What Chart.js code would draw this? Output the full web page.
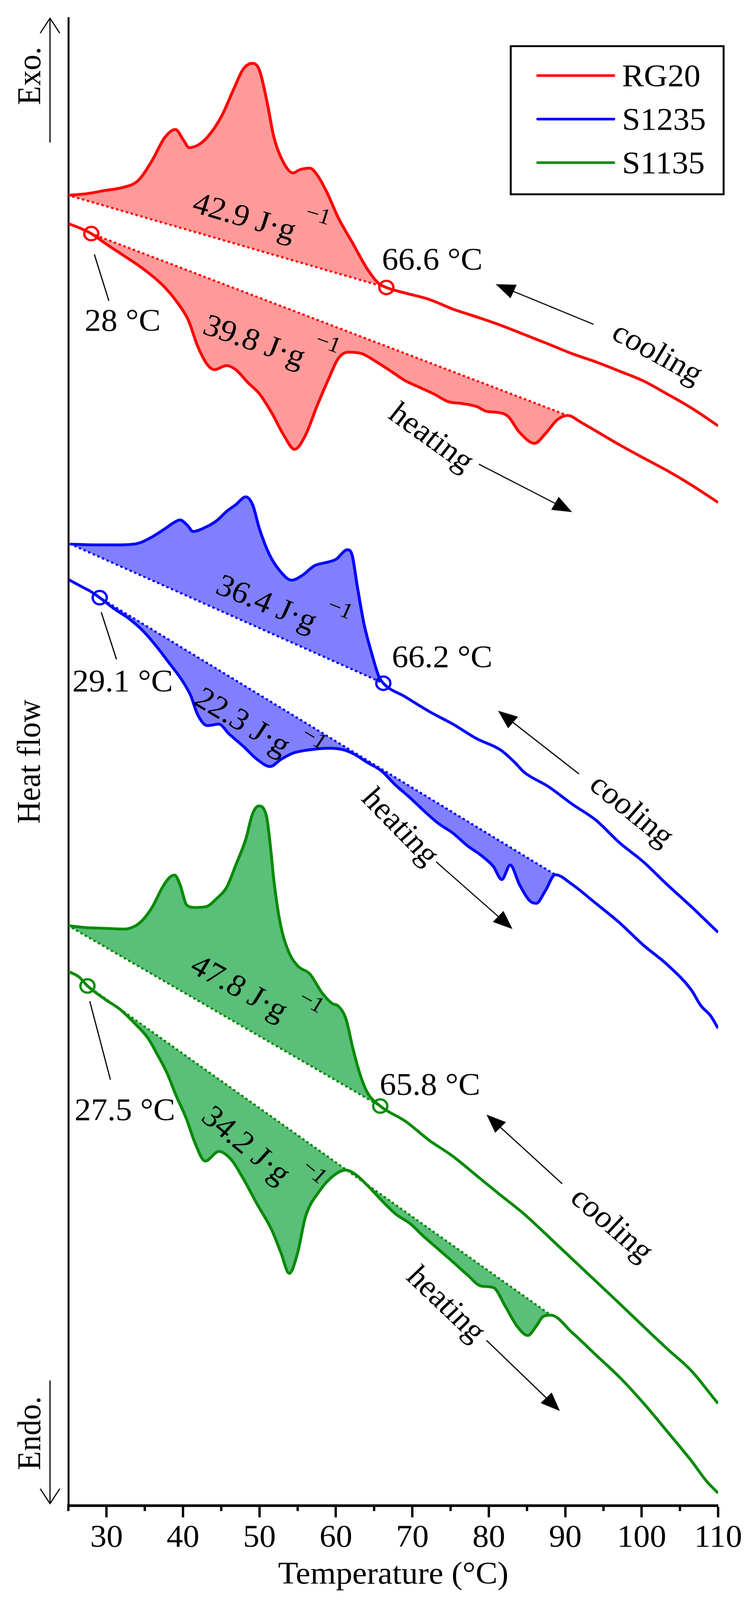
<!DOCTYPE html>
<html>
<head>
<meta charset="utf-8">
<script src="https://cdn.jsdelivr.net/npm/chart.js@4.4.1/dist/chart.umd.min.js"></script>
<style>
html,body{margin:0;padding:0;background:#fff;overflow:hidden;}
#wrap{width:1915px;position:relative;}
canvas{display:block;}
</style>
</head>
<body>
<div id="wrap"><canvas id="c" width="1915" height="4299"></canvas></div>
<script>
// ---------- DATA (temperature in °C, heat flow in arbitrary units) ----------
const seriesNames = ['RG20', 'S1235', 'S1135'];
const seriesColors = ['#ff0000', '#0000ff', '#078a07'];
const fillColors = ['#ff9a9a', '#8080ff', '#5abf78'];

const rg20CoolT = [25.0, 27.3, 29.8, 32.3, 34.1, 36.0, 37.6, 39.0, 40.1, 40.8, 42.2, 43.5, 45.1, 46.6, 47.9, 49.1, 50.0, 51.0, 51.9, 53.2, 54.4, 55.3, 56.6, 57.5, 58.8, 60.3, 62.2, 64.1, 65.6, 66.6, 69.1, 72.2, 75.3, 78.4, 81.5, 84.6, 87.8, 90.9, 94.0, 97.1, 100.2, 103.3, 106.5, 110.0];
const rg20CoolHF = [352.3, 352.7, 353.6, 354.5, 356.2, 361.8, 367.8, 370.0, 367.0, 365.1, 366.1, 368.7, 373.8, 380.7, 386.3, 387.8, 385.9, 377.3, 367.8, 360.9, 358.3, 359.2, 359.6, 357.9, 353.2, 346.3, 339.4, 332.5, 328.6, 327.5, 326.0, 324.3, 321.7, 319.6, 317.4, 314.9, 312.3, 309.7, 307.5, 305.0, 302.4, 298.9, 295.1, 290.3];

const rg20HeatT = [25.0, 26.7, 28.0, 29.8, 32.3, 34.8, 37.3, 39.1, 40.7, 41.9, 43.2, 44.1, 45.7, 46.9, 48.5, 50.0, 51.6, 53.2, 54.6, 56.0, 57.5, 59.1, 60.3, 61.6, 63.4, 65.3, 67.2, 69.1, 70.9, 72.8, 74.7, 76.5, 78.4, 79.7, 81.2, 82.5, 84.0, 86.0, 87.4, 89.0, 90.3, 92.1, 94.6, 97.1, 100.2, 103.3, 106.5, 110.0];
const rg20HeatHF = [344.7, 343.3, 342.0, 339.4, 336.0, 332.5, 328.2, 323.9, 318.7, 311.8, 306.7, 305.4, 306.5, 305.4, 301.9, 298.9, 293.8, 287.7, 284.0, 287.7, 295.5, 303.2, 308.4, 310.1, 309.7, 307.5, 305.0, 302.4, 300.7, 298.9, 296.8, 296.3, 295.5, 294.2, 293.9, 292.9, 288.6, 285.6, 288.2, 292.0, 293.1, 291.2, 288.2, 285.2, 281.7, 278.3, 274.4, 269.7];

const s1235CoolT = [25.3, 28.5, 31.7, 34.1, 36.0, 37.6, 38.8, 39.6, 40.6, 41.3, 42.9, 44.4, 45.7, 46.9, 48.2, 49.1, 50.0, 51.3, 52.8, 54.2, 55.6, 57.2, 58.8, 60.0, 61.5, 62.1, 62.8, 63.7, 64.7, 65.6, 66.2, 69.1, 72.2, 75.3, 78.4, 81.5, 83.4, 84.6, 87.8, 90.9, 94.0, 97.1, 100.2, 103.3, 106.5, 110.0];
const s1235CoolHF = [258.5, 258.3, 258.3, 258.7, 260.5, 262.6, 264.3, 265.0, 263.5, 261.9, 263.0, 264.8, 267.3, 269.1, 271.2, 269.1, 262.6, 255.7, 251.0, 248.8, 250.1, 252.7, 253.6, 254.4, 257.0, 255.7, 247.1, 236.8, 229.0, 223.0, 221.1, 217.4, 213.5, 210.1, 206.2, 203.2, 199.8, 197.2, 193.3, 188.6, 184.3, 178.2, 173.1, 167.0, 161.0, 154.1];

const s1235HeatT = [25.0, 26.7, 27.9, 29.1, 31.0, 32.9, 34.8, 36.6, 38.2, 39.8, 41.0, 41.9, 43.2, 44.7, 46.0, 47.9, 49.7, 51.4, 52.8, 54.4, 56.6, 59.1, 61.0, 62.5, 64.1, 65.9, 67.8, 69.7, 71.5, 73.4, 75.3, 77.2, 79.0, 80.6, 81.7, 82.8, 84.0, 85.3, 86.2, 87.4, 88.7, 90.9, 94.0, 97.1, 100.2, 103.3, 106.5, 107.7, 109.0, 110.0];
const s1235HeatHF = [249.0, 247.1, 245.8, 244.1, 241.1, 238.5, 235.1, 230.8, 226.5, 222.1, 217.8, 212.7, 209.7, 210.1, 207.5, 204.1, 200.6, 198.7, 200.6, 202.3, 203.2, 203.6, 203.2, 201.9, 199.8, 197.6, 193.7, 190.3, 186.8, 183.4, 180.8, 177.4, 174.8, 171.8, 168.3, 172.2, 167.0, 162.7, 161.9, 165.3, 169.6, 167.0, 161.9, 156.7, 150.7, 145.5, 138.6, 134.5, 131.7, 128.3];

const s1135CoolT = [25.0, 27.3, 29.8, 32.3, 33.8, 34.8, 36.0, 37.3, 38.2, 38.9, 39.6, 40.5, 41.6, 43.0, 44.4, 45.7, 46.9, 48.2, 49.1, 49.9, 50.9, 51.4, 51.9, 52.7, 53.8, 55.0, 56.6, 58.2, 59.5, 60.3, 61.3, 62.2, 63.1, 64.1, 65.8, 69.1, 72.2, 75.3, 78.4, 81.5, 84.6, 87.8, 90.9, 94.0, 97.1, 100.2, 103.3, 106.5, 109.6, 110.0];
const s1135CoolHF = [155.9, 155.4, 155.2, 155.0, 155.9, 157.6, 161.0, 166.2, 168.8, 169.5, 167.0, 161.4, 160.8, 161.0, 163.2, 166.2, 172.2, 179.1, 186.0, 188.1, 185.5, 177.8, 167.8, 156.7, 149.0, 145.1, 142.9, 137.8, 135.0, 134.3, 130.9, 123.1, 116.3, 111.1, 107.4, 103.3, 98.2, 93.9, 88.7, 83.5, 78.4, 72.3, 66.3, 60.3, 54.3, 48.2, 42.2, 36.2, 28.4, 27.4];

const s1135HeatT = [25.0, 26.4, 27.5, 29.8, 31.7, 33.5, 35.4, 36.6, 37.9, 39.1, 40.4, 41.6, 42.9, 44.7, 46.3, 47.9, 49.7, 51.6, 52.8, 53.9, 55.0, 56.0, 57.8, 59.7, 61.3, 62.5, 64.1, 65.9, 67.8, 69.7, 71.5, 73.4, 75.3, 77.2, 79.0, 80.6, 82.2, 83.7, 85.1, 86.2, 87.1, 88.1, 90.9, 94.0, 97.1, 100.2, 103.3, 106.5, 108.5, 110.0];
const s1135HeatHF = [143.6, 142.1, 139.7, 136.1, 133.5, 130.0, 125.7, 121.4, 116.3, 110.2, 104.2, 97.3, 92.6, 95.2, 93.0, 87.8, 81.0, 74.1, 68.0, 62.4, 68.0, 77.5, 84.4, 88.7, 90.2, 89.1, 86.1, 82.2, 78.4, 75.8, 72.3, 68.9, 65.5, 62.0, 59.0, 58.6, 53.4, 48.2, 45.7, 48.2, 50.8, 51.2, 46.5, 40.5, 34.5, 27.6, 20.0, 12.0, 6.5, 3.3];

// integration baselines (order: RG20 cool, RG20 heat, S1235 cool, S1235 heat, S1135 cool, S1135 heat)
const baseStartT  = [25.0, 28.0, 25.3, 29.1, 25.0, 27.5];
const baseStartHF = [352.3, 342.0, 258.5, 244.1, 155.9, 139.7];
const baseEndT    = [66.6, 90.3, 66.2, 88.7, 65.8, 88.1];
const baseEndHF   = [327.5, 293.1, 221.1, 169.6, 107.4, 51.2];

// onset markers and labels
const onsetT  = [66.6, 28.0, 66.2, 29.1, 65.8, 27.5];
const onsetHF = [327.5, 342.0, 221.1, 244.1, 107.4, 139.7];
const onsetText = ['66.6 °C', '28 °C', '66.2 °C', '29.1 °C', '65.8 °C', '27.5 °C'];
const onsetLabelT  = [72.6, 32.1, 73.9, 32.1, 72.3, 32.4];
const onsetLabelHF = [335.1, 318.6, 228.2, 221.7, 113.2, 106.4];

// leader lines for the heating onsets
const leaderFromT  = [28.4, 29.3, 27.8];
const leaderFromHF = [336.4, 240.2, 135.6];
const leaderToT    = [30.3, 31.3, 30.5];
const leaderToHF   = [323.9, 227.5, 114.5];

// enthalpy labels
const enthalpyText  = ['42.9', '39.8', '36.4', '22.3', '47.8', '34.2'];
const enthalpyT     = [50.1, 51.4, 53.0, 49.8, 49.4, 50.2];
const enthalpyHF    = [346.7, 313.1, 242.4, 209.9, 138.5, 95.5];
const enthalpyAngle = [17, 20, 23, 32, 30, 41];

// direction labels and arrows
const dirText  = ['cooling', 'heating', 'cooling', 'heating', 'cooling', 'heating'];
const dirT     = [101.9, 72.3, 98.5, 68.2, 95.9, 74.2];
const dirHF    = [309.3, 286.7, 186.4, 182.1, 75.1, 53.7];
const dirAngle = [30, 37, 40, 47, 42, 45];
const arrowFromT  = [93.7, 78.7, 91.8, 73.1, 89.6, 79.7];
const arrowFromHF = [317.6, 280.0, 196.7, 173.1, 86.5, 44.4];
const arrowToT    = [80.9, 90.9, 81.2, 83.1, 79.7, 89.3];
const arrowToHF   = [328.4, 267.1, 213.7, 155.0, 105.1, 25.4];

const xTickMin = 25, xTickMax = 110, xTickStep = 5;

// ---------- BUILD ----------
const curvesT  = [rg20CoolT, rg20HeatT, s1235CoolT, s1235HeatT, s1135CoolT, s1135HeatT];
const curvesHF = [rg20CoolHF, rg20HeatHF, s1235CoolHF, s1235HeatHF, s1135CoolHF, s1135HeatHF];
const FONT = '"Liberation Serif", "Times New Roman", serif';

function pts(T, H) { return T.map((t, i) => ({x: t, y: H[i]})); }
function segment(T, H, t0, h0, t1, h1) {
  const out = [{x: t0, y: h0}];
  for (let i = 0; i < T.length; i++) if (T[i] > t0 && T[i] < t1) out.push({x: T[i], y: H[i]});
  out.push({x: t1, y: h1});
  return out;
}

const datasets = [];
for (let k = 0; k < 6; k++) {
  const s = Math.floor(k / 2);
  const col = seriesColors[s];
  datasets.push({
    label: seriesNames[s] + ' baseline', data: pts([baseStartT[k], baseEndT[k]], [baseStartHF[k], baseEndHF[k]]),
    borderColor: col, borderWidth: 6, borderDash: [1, 12], borderCapStyle: 'round',
    pointRadius: 0, fill: false, tension: 0, order: 2
  });
  datasets.push({
    label: seriesNames[s] + ' area', data: segment(curvesT[k], curvesHF[k], baseStartT[k], baseStartHF[k], baseEndT[k], baseEndHF[k]),
    borderColor: 'rgba(0,0,0,0)', borderWidth: 0, pointRadius: 0, backgroundColor: fillColors[s],
    fill: '-1', cubicInterpolationMode: 'monotone', order: 3
  });
  datasets.push({
    label: seriesNames[s], data: pts(curvesT[k], curvesHF[k]),
    borderColor: col, borderWidth: 7.5, pointRadius: 0, fill: false, cubicInterpolationMode: 'monotone', order: 1
  });
  datasets.push({
    label: seriesNames[s] + ' onset', data: pts([onsetT[k]], [onsetHF[k]]),
    showLine: false, pointRadius: 18, pointHoverRadius: 18, pointBorderWidth: 6, pointBorderColor: col,
    pointBackgroundColor: 'rgba(255,255,255,0)', order: 0
  });
}

function arrow(ctx, x1, y1, x2, y2, head, half) {
  const a = Math.atan2(y2 - y1, x2 - x1);
  const bx = x2 - head * Math.cos(a), by = y2 - head * Math.sin(a);
  ctx.beginPath(); ctx.moveTo(x1, y1); ctx.lineTo(bx, by); ctx.stroke();
  ctx.beginPath();
  ctx.moveTo(x2, y2);
  ctx.lineTo(bx + half * Math.sin(a), by - half * Math.cos(a));
  ctx.lineTo(bx - half * Math.sin(a), by + half * Math.cos(a));
  ctx.closePath(); ctx.fill();
}

const decorPlugin = {
  id: 'decor',
  afterDraw(chart) {
    const {ctx, chartArea: ca, scales: {x, y}} = chart;
    const X = v => x.getPixelForValue(v), Y = v => y.getPixelForValue(v);
    ctx.save();
    ctx.fillStyle = '#000'; ctx.strokeStyle = '#000';

    // minor ticks
    ctx.lineWidth = 6;
    for (let v = xTickMin; v <= xTickMax; v += xTickStep) {
      if (v % 10 === 0) continue;
      ctx.beginPath(); ctx.moveTo(X(v), ca.bottom); ctx.lineTo(X(v), ca.bottom + 15); ctx.stroke();
    }

    // Exo. / Endo. arrows
    const ax = ca.left - 47;
    ctx.lineWidth = 3;
    ctx.beginPath(); ctx.moveTo(ax, ca.top + 335); ctx.lineTo(ax, ca.top + 1); ctx.stroke();
    ctx.beginPath(); ctx.moveTo(ax - 25, ca.top + 41); ctx.lineTo(ax, ca.top + 1); ctx.lineTo(ax + 25, ca.top + 41); ctx.stroke();
    ctx.beginPath(); ctx.moveTo(ax, ca.bottom - 336); ctx.lineTo(ax, ca.bottom - 5); ctx.stroke();
    ctx.beginPath(); ctx.moveTo(ax - 25, ca.bottom - 45); ctx.lineTo(ax, ca.bottom - 5); ctx.lineTo(ax + 25, ca.bottom - 45); ctx.stroke();
    ctx.font = '84px ' + FONT; ctx.textAlign = 'center'; ctx.textBaseline = 'alphabetic';
    [['Exo.', ca.top + 156], ['Endo.', ca.bottom - 194]].forEach(([t, cy]) => {
      ctx.save(); ctx.translate(ca.left - 100, cy); ctx.rotate(-Math.PI / 2); ctx.fillText(t, 0, 28); ctx.restore();
    });

    // onset labels + leaders
    ctx.font = '84px ' + FONT;
    for (let k = 0; k < 6; k++) ctx.fillText(onsetText[k], X(onsetLabelT[k]), Y(onsetLabelHF[k]) + 28);
    ctx.lineWidth = 3;
    for (let k = 0; k < 3; k++) {
      ctx.beginPath(); ctx.moveTo(X(leaderFromT[k]), Y(leaderFromHF[k])); ctx.lineTo(X(leaderToT[k]), Y(leaderToHF[k])); ctx.stroke();
    }

    // enthalpy labels
    for (let k = 0; k < 6; k++) {
      ctx.save();
      ctx.translate(X(enthalpyT[k]), Y(enthalpyHF[k]));
      ctx.rotate(enthalpyAngle[k] * Math.PI / 180);
      const main = enthalpyText[k] + ' J·g', sup = '−1';
      ctx.font = '84px ' + FONT; const w1 = ctx.measureText(main).width;
      ctx.font = '60px ' + FONT; const w2 = ctx.measureText(sup).width;
      const gap = 12, x0 = -(w1 + gap + w2) / 2;
      ctx.textAlign = 'left';
      ctx.font = '84px ' + FONT; ctx.fillText(main, x0, 40);
      ctx.font = '60px ' + FONT; ctx.fillText(sup, x0 + w1 + gap, -28);
      ctx.restore();
    }

    // direction labels + arrows
    ctx.font = '84px ' + FONT; ctx.textAlign = 'center';
    for (let k = 0; k < 6; k++) {
      ctx.save(); ctx.translate(X(dirT[k]), Y(dirHF[k])); ctx.rotate(dirAngle[k] * Math.PI / 180);
      ctx.fillText(dirText[k], 0, 19); ctx.restore();
      ctx.lineWidth = 3;
      arrow(ctx, X(arrowFromT[k]), Y(arrowFromHF[k]), X(arrowToT[k]), Y(arrowToHF[k]), 50, 20);
    }

    // legend
    const lw = 545, lh = 398;
    const lx = ca.right - 531, ly = ca.top + 76;
    ctx.fillStyle = '#fff'; ctx.fillRect(lx, ly, lw, lh);
    ctx.lineWidth = 5; ctx.strokeStyle = '#000'; ctx.strokeRect(lx, ly, lw, lh);
    ctx.textAlign = 'left'; ctx.font = '84px ' + FONT;
    for (let s = 0; s < 3; s++) {
      const ry = ly + 79 + s * 117;
      ctx.strokeStyle = seriesColors[s]; ctx.lineWidth = 7; ctx.lineCap = 'round';
      ctx.beginPath(); ctx.moveTo(lx + 69, ry); ctx.lineTo(lx + 264, ry); ctx.stroke();
      ctx.fillStyle = '#000'; ctx.fillText(seriesNames[s], lx + 285, ry + 29);
    }
    ctx.restore();
  }
};

// the browser viewport may be shorter than the 4299 px figure: show the whole figure inside it
const cv = document.getElementById('c');
const viewH = Math.min(window.innerHeight || 4299, 4299);
cv.style.width = '1915px';
cv.style.height = viewH + 'px';
document.getElementById('wrap').style.height = viewH + 'px';

Chart.defaults.font.family = FONT;
Chart.defaults.color = '#000';

new Chart(cv, {
  type: 'line',
  data: {datasets},
  options: {
    responsive: false, animation: false, devicePixelRatio: 1,
    layout: {padding: {top: 48, right: 75, bottom: 24, left: 20}},
    plugins: {legend: {display: false}, tooltip: {enabled: false}, filler: {drawTime: 'beforeDatasetsDraw'}},
    scales: {
      x: {
        type: 'linear', min: xTickMin, max: xTickMax, position: 'bottom',
        border: {display: true, width: 7, color: '#000'},
        grid: {display: true, drawOnChartArea: false, drawTicks: true, tickLength: 32, tickWidth: 6,
               tickColor: c => (c.tick && c.tick.value % 10 === 0) ? '#000' : 'rgba(0,0,0,0)'},
        ticks: {stepSize: xTickStep, autoSkip: false, maxRotation: 0, minRotation: 0, padding: 15,
                font: {size: 84, lineHeight: 1}, color: '#000',
                callback: v => (v % 10 === 0 ? String(v) : '')},
        title: {display: true, text: 'Temperature (°C)', font: {size: 84, lineHeight: 1}, color: '#000', padding: {top: 0, bottom: 0}}
      },
      y: {
        type: 'linear', min: 0, max: 400, position: 'left',
        border: {display: true, width: 5, color: '#000'},
        grid: {display: false, drawTicks: false},
        ticks: {display: false},
        title: {display: true, text: 'Heat flow', font: {size: 84, lineHeight: 1}, color: '#000', padding: {top: 18, bottom: 53}}
      }
    }
  },
  plugins: [decorPlugin]
});
</script>
</body>
</html>
